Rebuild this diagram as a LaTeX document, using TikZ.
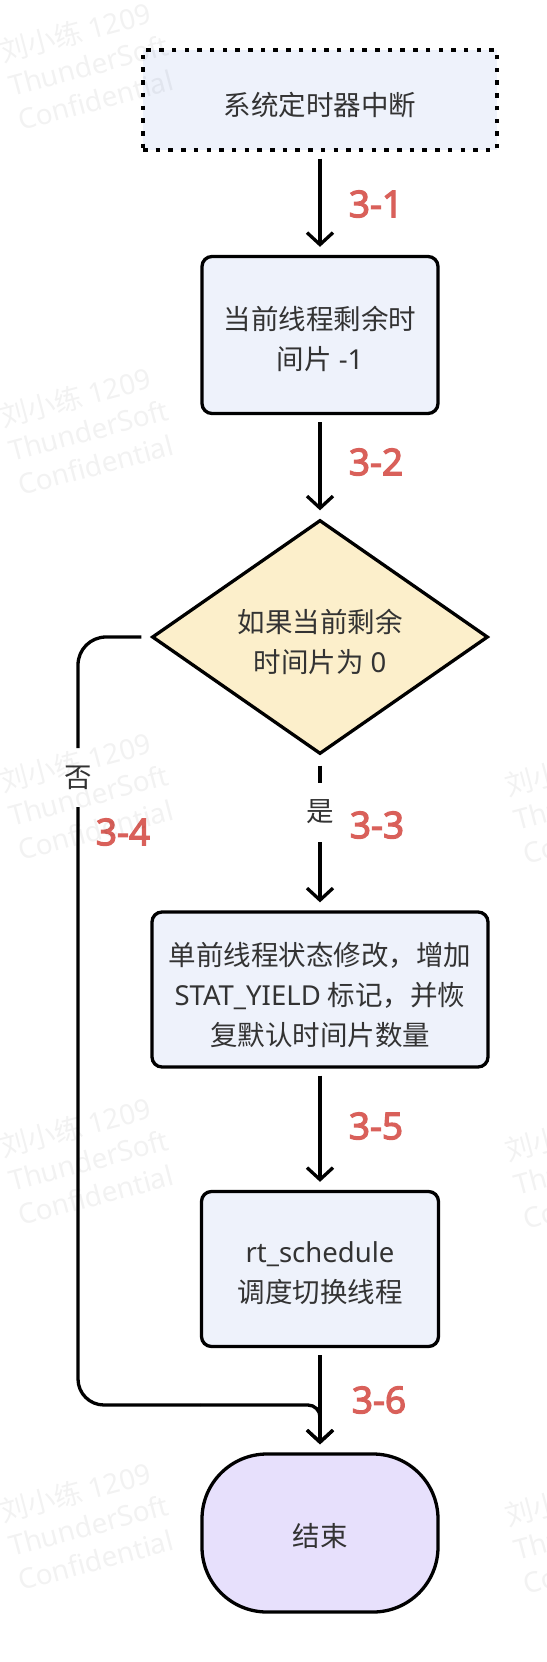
\documentclass[tikz,border=0pt]{standalone}
\usepackage{fontspec}
\setmainfont{Noto Sans}
\newfontfamily\cjk{Noto Sans CJK SC}
\newfontfamily\lblfont{Noto Sans}[AutoFakeBold=3.2]
\usetikzlibrary{arrows.meta,shapes.geometric}
\definecolor{boxfill}{HTML}{EEF2FB}
\definecolor{diafill}{HTML}{FCEFCB}
\definecolor{endfill}{HTML}{E7E0FC}
\definecolor{lbl}{HTML}{D9605A}
\definecolor{txt}{HTML}{333333}
\newcommand\mainfs{\fontsize{27.5}{40}\selectfont}
\newcommand\lblfs{\lblfont\bfseries\fontsize{37}{40}\selectfont}
\begin{document}
\begin{tikzpicture}[x=1pt,y=-1pt,
  shp/.style={draw=black, line width=3.3pt, inner sep=0pt},
  box/.style={shp, fill=boxfill, rounded corners=10pt},
  txtnode/.style={align=center, text=txt, font=\mainfs, inner sep=0pt},
  lab/.style={text=lbl, font=\lblfs, inner sep=0pt},
  plain/.style={draw=black, line width=3.3pt},
  conn/.style={plain, shorten <=7pt, shorten >=8pt, -{Straight Barb[length=12pt,width=26pt]}},
  wmk/.style={rotate=15, anchor=base west, inner sep=0pt, text=black, text opacity=0.05, font=\fontsize{28}{30}\selectfont}]
\fill[white] (0,0) rectangle (546,1662);
\useasboundingbox (0,0) rectangle (546,1662);

% shapes
\node[shp, fill=boxfill, dash pattern=on 4.5pt off 8.2pt, minimum width=354pt, minimum height=100pt] (start) at (320,100) {};
\node[box, minimum width=236pt, minimum height=157pt] (b2) at (320,335) {};
\node[shp, diamond, fill=diafill, aspect=1.44, minimum width=336pt, minimum height=234pt] (d) at (320,637) {};
\node[box, minimum width=336pt, minimum height=155pt] (b4) at (320,989.5) {};
\node[box, minimum width=237pt, minimum height=155pt] (b5) at (320,1269) {};
\node[shp, fill=endfill, rounded corners=65pt, minimum width=236pt, minimum height=158pt] (end) at (320,1533) {};

% texts
\node[txtnode] (t1) at (320,105) {{\cjk 系统定时器中断}};
\node[txtnode] (t2) at (320,339) {{\cjk 当前线程剩余时}\\{\cjk 间片} -1};
\node[txtnode] (t3) at (320,642) {{\cjk 如果当前剩余}\\{\cjk 时间片为} 0};
\node[txtnode] (t4) at (320,995) {{\cjk 单前线程状态修改，增加}\\STAT\_YIELD {\cjk 标记，并恢}\\{\cjk 复默认时间片数量}};
\node[txtnode] (t5) at (320,1273) {rt\_schedule\\{\cjk 调度切换线程}};
\node[txtnode] (t6) at (320,1536) {{\cjk 结束}};

% connectors
\draw[conn] (start) -- (b2);
\draw[conn] (b2) -- (d);
\coordinate (yA) at (320,783);
\coordinate (yB) at (320,842);
\draw[plain, shorten <=10pt] (d) -- (yA);
\node[txtnode] (yes) at (320,812) {{\cjk 是}};
\draw[conn, shorten <=0pt] (yB) -- (b4);
\draw[conn] (b4) -- (b5);
\draw[conn] (b5) -- (end);

\coordinate (nc1) at (78,637);
\coordinate (nA) at (78,748);
\coordinate (nB) at (78,807);
\coordinate (nc2) at (78,1405);
\coordinate (nM) at (200,1405);
\coordinate (nc3) at (320,1405);
\draw[plain, shorten <=9pt, rounded corners=28pt] (d.west) -- (nc1) -- (nA);
\node[txtnode] (no) at (78,778) {{\cjk 否}};
\draw[plain, rounded corners=26pt] (nB) -- (nc2) -- (nM);
\draw[conn, shorten <=0pt, rounded corners=12pt] (nM) -- (nc3) -- (end);

% step labels
\node[lab] (l1) at (376,204) {3-1};
\node[lab] (l2) at (376,462) {3-2};
\node[lab] (l3) at (377,825) {3-3};
\node[lab] (l4) at (123,832) {3-4};
\node[lab] (l5) at (376,1126) {3-5};
\node[lab] (l6) at (379,1400) {3-6};

% watermark
\foreach \px/\py [count=\i] in {3/63, 3/428, 3/793, 3/1158, 3/1523, 508/797, 508/1162, 508/1527} {
  \node[wmk] (wa\i) at (\px,\py) {{\cjk 刘小练} 1209};
  \node[wmk] (wb\i) at (\px+9,\py+34) {ThunderSoft};
  \node[wmk] (wc\i) at (\px+18,\py+68) {Confidential};
}
\end{tikzpicture}
\end{document}
